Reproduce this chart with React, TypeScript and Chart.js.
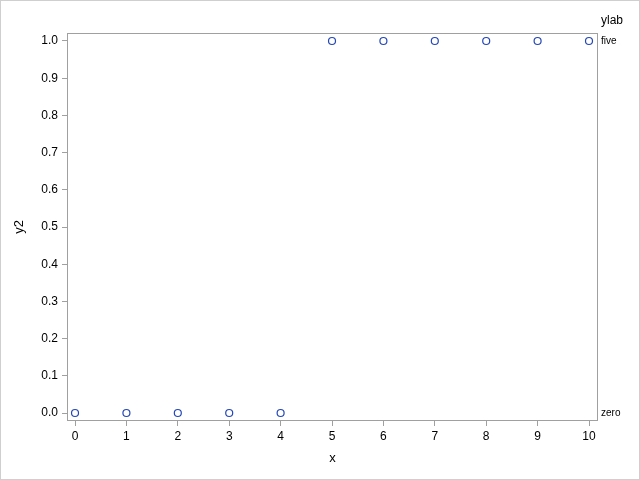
import React, { useEffect, useRef } from "react";
import { Chart, registerables } from "chart.js";

Chart.register(...registerables);

const xValues = [0, 1, 2, 3, 4, 5, 6, 7, 8, 9, 10];
const y2Values = [0, 0, 0, 0, 0, 1, 1, 1, 1, 1, 1];
const yTicks = [0, 0.1, 0.2, 0.3, 0.4, 0.5, 0.6, 0.7, 0.8, 0.9, 1.0];
const rightTickValues = [0, 1];
const rightTickLabels = ["zero", "five"];
const xTicks = [0, 1, 2, 3, 4, 5, 6, 7, 8, 9, 10];

const FONT = "'Liberation Sans', Arial, sans-serif";

const framePlugin = {
  id: "frame",
  afterDraw(chart: any) {
    const { ctx, chartArea, width, height } = chart;
    ctx.save();
    ctx.strokeStyle = "#a0a0a0";
    ctx.lineWidth = 1;
    ctx.strokeRect(
      Math.round(chartArea.left) + 0.5,
      Math.round(chartArea.top) + 0.5,
      Math.round(chartArea.right - chartArea.left) - 1,
      Math.round(chartArea.bottom - chartArea.top) - 1
    );
    ctx.strokeStyle = "#cfcfcf";
    ctx.strokeRect(0.5, 0.5, width - 1, height - 1);
    ctx.fillStyle = "#000";
    ctx.font = `12px ${FONT}`;
    ctx.textAlign = "left";
    ctx.textBaseline = "middle";
    ctx.fillText("ylab", chartArea.right + 3, 21);
    ctx.restore();
  },
};

export default function App() {
  const ref = useRef<HTMLCanvasElement | null>(null);
  useEffect(() => {
    if (!ref.current) return;
    const data = xValues.map((x, i) => ({ x, y: y2Values[i] }));
    const chart = new Chart(ref.current, {
      type: "scatter",
      data: {
        datasets: [
          {
            data,
            yAxisID: "y",
            borderColor: "#2447b8",
            backgroundColor: "rgba(0,0,0,0)",
            borderWidth: 1.2,
            pointRadius: 3.5,
            pointStyle: "circle",
          },
        ],
      },
      options: {
        responsive: false,
        animation: false,
        devicePixelRatio: 1,
        layout: { padding: { top: 33, left: 0, right: 0, bottom: 0 } },
        plugins: { legend: { display: false }, tooltip: { enabled: false } },
        scales: {
          x: {
            type: "linear",
            min: -0.156,
            max: 10.175,
            afterBuildTicks: (s: any) => {
              s.ticks = xTicks.map((v) => ({ value: v }));
            },
            afterFit: (s: any) => {
              s.height = 59;
            },
            grid: {
              display: true,
              drawOnChartArea: false,
              tickLength: 5,
              color: "#a0a0a0",
            },
            border: { display: false },
            ticks: {
              color: "#000",
              font: { family: FONT, size: 12 },
              padding: 3,
              maxRotation: 0,
              callback: (v: any) => String(v),
            },
            title: {
              display: true,
              text: "x",
              color: "#000",
              font: { family: FONT, size: 13 },
              padding: { top: 14, bottom: 14 },
            },
          },
          y: {
            type: "linear",
            position: "left",
            min: -0.0215,
            max: 1.0215,
            afterBuildTicks: (s: any) => {
              s.ticks = yTicks.map((v) => ({ value: v }));
            },
            afterFit: (s: any) => {
              s.width = 67;
            },
            grid: {
              display: true,
              drawOnChartArea: false,
              tickLength: 5,
              color: "#a0a0a0",
            },
            border: { display: false },
            ticks: {
              color: "#000",
              font: { family: FONT, size: 12 },
              padding: 4,
              callback: (v: any) => Number(v).toFixed(1),
            },
            title: {
              display: true,
              text: "y2",
              color: "#000",
              font: { family: FONT, size: 13 },
              padding: { top: 12, bottom: 12 },
            },
          },
          y2: {
            type: "linear",
            position: "right",
            min: -0.0215,
            max: 1.0215,
            afterBuildTicks: (s: any) => {
              s.ticks = rightTickValues.map((v) => ({ value: v }));
            },
            afterFit: (s: any) => {
              s.width = 42;
            },
            grid: { display: false, drawTicks: false, tickLength: 0 },
            border: { display: false },
            ticks: {
              color: "#000",
              font: { family: FONT, size: 10 },
              padding: 3,
              callback: (v: any) => {
                const i = rightTickValues.indexOf(Number(v));
                return i >= 0 ? rightTickLabels[i] : "";
              },
            },
          },
        },
      },
      plugins: [framePlugin],
    });
    return () => chart.destroy();
  }, []);
  return (
    <div style={{ position: "fixed", left: 0, top: 0, width: 640, height: 480, background: "#fff" }}>
      <canvas ref={ref} width={640} height={480} style={{ display: "block" }} />
    </div>
  );
}
